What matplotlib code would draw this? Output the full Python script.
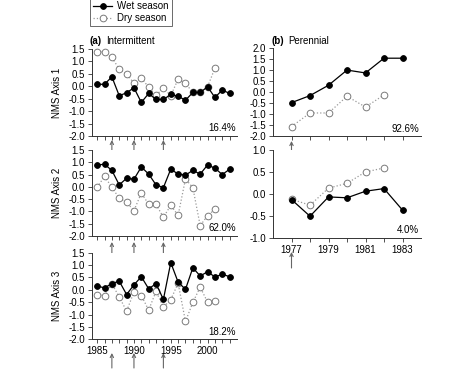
import matplotlib
matplotlib.use("Agg")
import matplotlib.pyplot as plt
from matplotlib.lines import Line2D

plt.rcParams['font.family'] = ['Liberation Sans Narrow', 'Liberation Sans', 'DejaVu Sans']
plt.rcParams['font.size'] = 7

# ----------------------------
# DATA
# ----------------------------
years_a = list(range(1985, 2004))
years_a_dry = list(range(1985, 2002))

wet_a1 = [0.08, 0.08, 0.38, -0.38, -0.26, -0.06, -0.65, -0.29, -0.53, -0.53,
          -0.33, -0.40, -0.56, -0.25, -0.25, -0.02, -0.45, -0.15, -0.29]
dry_a1 = [1.39, 1.37, 1.16, 0.69, 0.50, 0.12, 0.32, -0.03, -0.37, -0.06,
          -0.38, 0.29, 0.12, -0.25, -0.25, -0.02, 0.73]

wet_a2 = [0.89, 0.92, 0.67, 0.08, 0.35, 0.31, 0.81, 0.52, 0.08, -0.03,
          0.72, 0.52, 0.48, 0.67, 0.52, 0.89, 0.76, 0.50, 0.72]
dry_a2 = [-0.02, 0.43, -0.02, -0.46, -0.63, -0.97, -0.25, -0.71, -0.71, -1.24,
          -0.75, -1.16, 0.32, -0.03, -1.58, -1.17, -0.91]

wet_a3 = [0.15, 0.08, 0.25, 0.35, -0.19, 0.20, 0.53, 0.04, 0.25, -0.39,
          1.10, 0.31, 0.02, 0.89, 0.56, 0.73, 0.52, 0.63, 0.53]
dry_a3 = [-0.19, -0.24, 0.25, -0.29, -0.86, -0.09, -0.23, -0.82, -0.06, -0.70,
          -0.40, 0.27, -1.28, -0.51, 0.11, -0.50, -0.44]

years_b = list(range(1977, 1984))
years_b_dry = list(range(1977, 1983))
wet_b1 = [-0.47, -0.15, 0.32, 1.01, 0.88, 1.55, 1.55]
dry_b1 = [-1.56, -0.94, -0.94, -0.18, -0.67, -0.12]
wet_b2 = [-0.13, -0.51, -0.07, -0.09, 0.06, 0.12, -0.37]
dry_b2 = [-0.12, -0.26, 0.13, 0.24, 0.50, 0.59]

pct_a = ["16.4%", "62.0%", "18.2%"]
pct_b = ["92.6%", "4.0%"]
arrow_years_a = [1987, 1990, 1994]
arrow_years_b = [1977]

W, H = 474, 383
fig = plt.figure(figsize=(W / 100, H / 100), dpi=100)


def px_axes(x0, x1, ytop, ybot):
    return fig.add_axes([x0 / W, (H - ybot) / H, (x1 - x0) / W, (ybot - ytop) / H])


wet_style = dict(color='black', lw=0.9, marker='o', ms=4.2, mfc='black', mec='black', mew=0.6)
dry_style = dict(color='#9a9a9a', lw=0.9, ls=':', marker='o', ms=4.8, mfc='white',
                 mec='#7a7a7a', mew=0.7)


def style_axes(ax):
    for s in ['top', 'right']:
        ax.spines[s].set_visible(False)
    for s in ['left', 'bottom']:
        ax.spines[s].set_linewidth(0.7)
        ax.spines[s].set_color('#333333')
    ax.tick_params(length=3, width=0.6, color='#333333', pad=2, labelsize=7)


# ----------------------------
# (a) INTERMITTENT
# ----------------------------
rows_a = [(49, 136), (150, 236), (252.7, 339.3)]
wets_a = [wet_a1, wet_a2, wet_a3]
drys_a = [dry_a1, dry_a2, dry_a3]
yt_a = [-2.0, -1.5, -1.0, -0.5, 0.0, 0.5, 1.0, 1.5]
axes_a = []
for i, (yt, yb) in enumerate(rows_a):
    ax = px_axes(92, 237, yt, yb)
    style_axes(ax)
    ax.plot(years_a_dry, drys_a[i], clip_on=False, **dry_style)
    ax.plot(years_a, wets_a[i], clip_on=False, **wet_style)
    ax.set_ylim(-2.0, 1.5)
    ax.set_yticks(yt_a)
    ax.set_yticklabels([f"{v:.1f}" for v in yt_a])
    ax.set_xlim(1984.3, 2004)
    ax.set_xticks(years_a)
    if i == 2:
        ax.set_xticklabels([str(y) if y % 5 == 0 else '' for y in years_a])
    else:
        ax.set_xticklabels([])
    ax.set_ylabel(f"NMS Axis {i + 1}", fontsize=7, va='center')
    ax.yaxis.set_label_coords(-0.243, 0.5)
    ax.text(0.995, 0.03, pct_a[i], transform=ax.transAxes, ha='right', va='bottom')
    axes_a.append(ax)

# ----------------------------
# (b) PERENNIAL
# ----------------------------
ax_b1 = px_axes(273, 421, 48.3, 136.3)
style_axes(ax_b1)
ax_b1.plot(years_b_dry, dry_b1, clip_on=False, **dry_style)
ax_b1.plot(years_b, wet_b1, clip_on=False, **wet_style)
ax_b1.set_ylim(-2.0, 2.0)
ticks_b1 = [-2.0, -1.5, -1.0, -0.5, 0.0, 0.5, 1.0, 1.5, 2.0]
ax_b1.set_yticks(ticks_b1)
ax_b1.set_yticklabels([f"{v:.1f}" for v in ticks_b1])
ax_b1.set_xlim(1976, 1984)
ax_b1.set_xticks(years_b)
ax_b1.set_xticklabels([])
ax_b1.text(0.985, 0.03, pct_b[0], transform=ax_b1.transAxes, ha='right', va='bottom')

ax_b2 = px_axes(273, 421, 150, 237.7)
style_axes(ax_b2)
ax_b2.plot(years_b_dry, dry_b2, clip_on=False, **dry_style)
ax_b2.plot(years_b, wet_b2, clip_on=False, **wet_style)
ax_b2.set_ylim(-1.0, 1.0)
ticks_b2 = [-1.0, -0.5, 0.0, 0.5, 1.0]
ax_b2.set_yticks(ticks_b2)
ax_b2.set_yticklabels([f"{v:.1f}" for v in ticks_b2])
ax_b2.set_xlim(1976, 1984)
ax_b2.set_xticks(years_b)
ax_b2.set_xticklabels([str(y) if y % 2 == 1 else '' for y in years_b])
ax_b2.text(0.985, 0.03, pct_b[1], transform=ax_b2.transAxes, ha='right', va='bottom')

# ----------------------------
# ARROWS (tip, tail in image pixels)
# ----------------------------
arrow_kw = dict(arrowstyle='->', color='#666666', lw=0.8, mutation_scale=6, shrinkA=0, shrinkB=0)


def draw_arrow(ax, year, tip, tail):
    ax.annotate('', xy=(year, H - tip), xytext=(year, H - tail),
                xycoords=('data', 'figure pixels'), textcoords=('data', 'figure pixels'),
                arrowprops=arrow_kw, annotation_clip=False)


for tip, tail in [(140, 155), (242, 256), (353, 368)]:
    for yr in arrow_years_a:
        draw_arrow(axes_a[0], yr, tip, tail)
for tip, tail in [(141, 155), (252, 268)]:
    for yr in arrow_years_b:
        draw_arrow(ax_b1, yr, tip, tail)

# ----------------------------
# TITLES AND LEGEND
# ----------------------------
fig.text(90 / W, (H - 41) / H, "(a)", fontweight='bold', va='center', ha='left')
fig.text(106 / W, (H - 41) / H, "Intermittent", va='center', ha='left')
fig.text(272 / W, (H - 41) / H, "(b)", fontweight='bold', va='center', ha='left')
fig.text(288 / W, (H - 41) / H, "Perennial", va='center', ha='left')

handles = [Line2D([], [], **wet_style), Line2D([], [], **dry_style)]
leg = fig.legend(handles, ["Wet season", "Dry season"], loc='lower left',
                 bbox_to_anchor=(90 / W, (H - 26) / H), frameon=True, fancybox=False,
                 fontsize=7, handlelength=2.0, handletextpad=0.5,
                 borderpad=0.3, labelspacing=0.2, borderaxespad=0)
leg.get_frame().set_edgecolor('#444444')
leg.get_frame().set_linewidth(0.7)

plt.savefig("out.png", dpi=100)
